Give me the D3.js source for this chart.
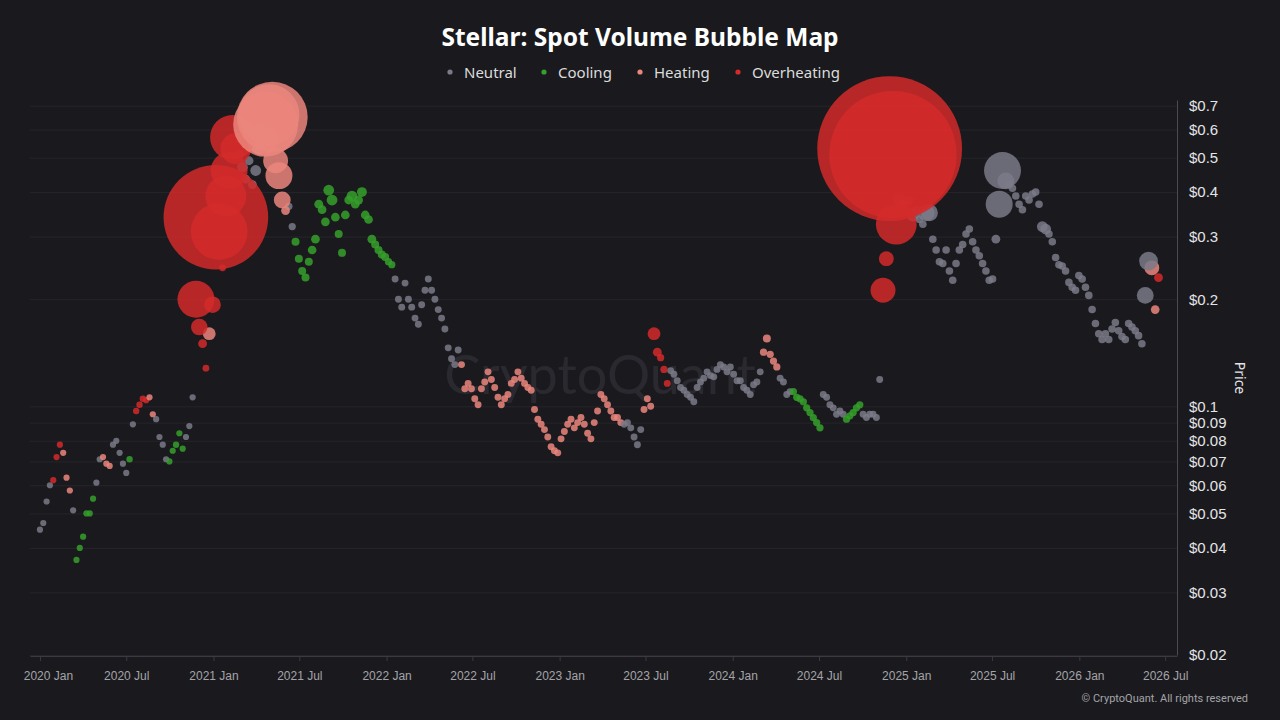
<!DOCTYPE html>
<html>
<head>
<meta charset="utf-8">
<script src="https://cdn.jsdelivr.net/npm/d3@7"></script>
<style>
  html, body { margin: 0; padding: 0; background: #1a1a1e; }
  svg { display: block; font-family: "Noto Sans", "Open Sans", sans-serif; }
</style>
</head>
<body>
<div id="chart"></div>
<script>
const width = 1280;
const height = 720;

// weekly samples starting 2020-01-01
const startDate = new Date(2020, 0, 1);

const categories = ["Neutral", "Cooling", "Heating", "Overheating"];
const categoryColors = ["#7a7a88", "#35a02a", "#eb867d", "#d32a2a"];
const stateCodes = { N: "Neutral", C: "Cooling", H: "Heating", O: "Overheating" };

const priceTicks = [0.02, 0.03, 0.04, 0.05, 0.06, 0.07, 0.08, 0.09, 0.1, 0.2, 0.3, 0.4, 0.5, 0.6, 0.7];

// XLM price (USD), one per week
const prices = [
  0.045,0.047,0.054,0.060,0.062,0.072,0.078,0.074,0.063,0.058,
  0.051,0.037,0.040,0.043,0.050,0.050,0.055,0.061,0.071,0.072,
  0.069,0.068,0.078,0.080,0.074,0.069,0.065,0.071,0.089,0.097,
  0.101,0.105,0.104,0.106,0.095,0.092,0.082,0.078,0.071,0.070,
  0.075,0.078,0.084,0.076,0.082,0.088,0.106,0.200,0.167,0.150,
  0.128,0.160,0.193,0.340,0.310,0.245,0.390,0.460,0.570,0.530,
  0.510,0.470,0.435,0.490,0.420,0.460,0.530,0.560,0.620,0.660,
  0.650,0.490,0.445,0.380,0.355,0.365,0.320,0.290,0.260,0.240,
  0.230,0.255,0.275,0.295,0.370,0.357,0.330,0.405,0.380,0.340,
  0.305,0.270,0.345,0.380,0.390,0.370,0.380,0.400,0.345,0.335,
  0.295,0.285,0.275,0.267,0.263,0.255,0.250,0.228,0.200,0.190,
  0.222,0.200,0.190,0.177,0.170,0.193,0.212,0.228,0.212,0.200,
  0.187,0.177,0.165,0.146,0.136,0.131,0.144,0.131,0.112,0.116,
  0.112,0.105,0.101,0.112,0.117,0.125,0.119,0.113,0.106,0.101,
  0.105,0.108,0.116,0.119,0.125,0.120,0.116,0.113,0.111,0.098,
  0.092,0.089,0.086,0.082,0.077,0.075,0.074,0.081,0.085,0.089,
  0.092,0.087,0.090,0.093,0.089,0.084,0.081,0.090,0.097,0.108,
  0.105,0.101,0.097,0.093,0.093,0.090,0.089,0.090,0.087,0.082,
  0.078,0.086,0.098,0.105,0.100,0.160,0.142,0.137,0.127,0.116,
  0.126,0.123,0.118,0.113,0.111,0.108,0.106,0.103,0.113,0.117,
  0.120,0.125,0.122,0.121,0.127,0.131,0.129,0.125,0.129,0.123,
  0.118,0.118,0.113,0.111,0.108,0.115,0.117,0.125,0.142,0.155,
  0.140,0.134,0.129,0.120,0.117,0.108,0.110,0.110,0.106,0.105,
  0.103,0.099,0.096,0.093,0.090,0.087,0.108,0.106,0.101,0.099,
  0.095,0.097,0.095,0.092,0.094,0.096,0.099,0.101,0.095,0.093,
  0.095,0.095,0.093,0.119,0.212,0.260,0.530,0.510,0.325,0.380,
  0.370,0.357,0.380,0.345,0.357,0.335,0.325,0.350,0.350,0.295,
  0.275,0.255,0.252,0.275,0.240,0.226,0.252,0.275,0.285,0.305,
  0.315,0.290,0.275,0.265,0.252,0.240,0.226,0.228,0.295,0.370,
  0.460,0.430,0.420,0.410,0.390,0.370,0.357,0.390,0.380,0.395,
  0.400,0.370,0.320,0.315,0.305,0.290,0.262,0.250,0.248,0.240,
  0.223,0.216,0.212,0.233,0.228,0.216,0.205,0.187,0.171,0.160,
  0.154,0.160,0.154,0.165,0.172,0.163,0.157,0.154,0.171,0.167,
  0.163,0.158,0.150,0.205,0.256,0.245,0.187,0.230
];

// market state per week (N neutral, C cooling, H heating, O overheating)
const states = (
  "NNNNOOOHHH" + "NCCCCCCNNH" + "HHNNNNNCNO" + "OOOHHNNNNC" + "CCCCNNNOOO" +
  "OHOOOOOOOO" + "NNNNNNNHHH" + "HHHHHNNCCC" + "CCCCCCCCCC" + "CCCCCCCCCC" +
  "CCCCCCCNNN" + "NNNNNNNNNN" + "NNNNNNNHHH" + "HHHHHHHHHH" + "HHHHHHHHHH" +
  "HHHHHHHHHH" + "HHHHHHHHHH" + "HHHHHHNNNN" + "NNHHHOOOOO" + "NNNNNNNNNN" +
  "NNNNNNNNNN" + "NNNNNNNNHH" + "HHHNNNNCCC" + "CCCCCCNNNN" + "NNNCCCCCNN" +
  "NNNNOOOOON" + "NNNNNNNNNN" + "NNNNNNNNNN" + "NNNNNNNNNN" + "NNNNNNNNNN" +
  "NNNNNNNNNN" + "NNNNNNNNNN" + "NNNNNNNNNN" + "NNNNNHHO"
).split("");

// spot volume (billion USD)
const volumes = [
  .010,.010,.010,.010,.012,.012,.012,.012,.010,.010,
  .010,.012,.010,.010,.010,.012,.010,.010,.012,.012,
  .012,.010,.010,.012,.010,.010,.010,.015,.012,.015,
  .015,.015,.012,.012,.012,.010,.012,.010,.010,.012,
  .012,.015,.012,.012,.010,.010,.010,.63,.12,.031,
  .017,.07,.12,5.2,1.5,.017,.77,.63,.93,.43,
  .031,.048,.031,.031,.031,.048,.048,.43,1.98,1.74,
  2.36,.28,.33,.124,.031,.02,.02,.025,.025,.025,
  .025,.025,.03,.03,.031,.03,.03,.048,.048,.03,
  .025,.025,.03,.03,.048,.03,.031,.04,.03,.03,
  .031,.025,.025,.025,.025,.02,.02,.018,.018,.018,
  .018,.018,.018,.018,.018,.018,.018,.018,.018,.018,
  .018,.018,.018,.018,.018,.018,.018,.018,.018,.018,
  .018,.018,.018,.018,.018,.018,.018,.018,.018,.018,
  .018,.018,.018,.018,.018,.018,.018,.018,.018,.018,
  .018,.018,.018,.018,.018,.018,.018,.018,.018,.018,
  .018,.018,.018,.018,.018,.018,.018,.018,.018,.018,
  .018,.018,.018,.018,.018,.018,.018,.018,.018,.018,
  .018,.018,.018,.018,.018,.07,.031,.02,.02,.018,
  .018,.018,.018,.018,.018,.018,.018,.018,.018,.018,
  .018,.018,.018,.018,.018,.018,.018,.018,.018,.018,
  .018,.018,.018,.018,.018,.018,.018,.018,.02,.025,
  .02,.02,.02,.018,.018,.018,.018,.02,.02,.02,
  .02,.02,.02,.02,.02,.02,.018,.018,.018,.018,
  .018,.018,.018,.02,.02,.02,.02,.02,.018,.018,
  .018,.018,.018,.018,.28,.095,10,7.7,.77,.07,
  .048,.02,.02,.07,.022,.022,.022,.124,.124,.022,
  .022,.022,.022,.022,.022,.022,.022,.022,.022,.022,
  .022,.022,.022,.022,.022,.022,.022,.022,.031,.33,
  .63,.124,.022,.022,.022,.022,.022,.022,.022,.022,
  .022,.022,.048,.048,.022,.022,.022,.022,.022,.022,
  .022,.022,.022,.022,.022,.022,.022,.022,.022,.022,
  .022,.022,.022,.022,.022,.022,.022,.022,.022,.022,
  .022,.022,.022,.124,.156,.095,.03,.031
];

const data = prices.map((p, i) => ({
  date: d3.timeDay.offset(startDate, i * 7),
  price: p,
  state: stateCodes[states[i]],
  volume: volumes[i]
}));

const svg = d3.select("#chart")
  .append("svg")
  .attr("width", width)
  .attr("height", height);

svg.append("rect")
  .attr("width", width)
  .attr("height", height)
  .attr("fill", "#1a1a1e");

const x = d3.scaleTime()
  .domain([new Date(2019, 11, 11), new Date(2026, 6, 26)])
  .range([30, 1177]);

const y = d3.scaleLog()
  .domain([0.02, 0.726])
  .range([655, 100]);

const r = d3.scaleSqrt()
  .domain([0, 10])
  .range([0, 72]);

const color = d3.scaleOrdinal()
  .domain(categories)
  .range(categoryColors);

// === Grid ===
svg.append("g")
  .selectAll("line")
  .data(priceTicks)
  .join("line")
  .attr("x1", 30)
  .attr("x2", 1177)
  .attr("y1", d => y(d) + 0.5)
  .attr("y2", d => y(d) + 0.5)
  .attr("stroke", "#25252a")
  .attr("stroke-width", 1);

// watermark
svg.append("text")
  .attr("x", 600)
  .attr("y", 394)
  .attr("text-anchor", "middle")
  .attr("fill", "#29292f")
  .style("font-family", "Lato, 'Noto Sans', sans-serif")
  .style("font-size", "54px")
  .text("CryptoQuant");

// === Axes ===
const xAxis = svg.append("g")
  .attr("transform", "translate(0,656)")
  .call(d3.axisBottom(x)
    .ticks(d3.timeMonth.every(6))
    .tickFormat(d3.timeFormat("%Y %b"))
    .tickSize(5)
    .tickSizeOuter(0)
    .tickPadding(10));
xAxis.select(".domain").attr("stroke", "#3a3a40");
xAxis.selectAll(".tick line").attr("stroke", "#3a3a40");
xAxis.selectAll(".tick text")
  .attr("fill", "#a4a4a8")
  .style("font-size", "12px");
// keep the first label inside the frame
xAxis.select(".tick text").attr("dx", 8);

const yAxis = svg.append("g")
  .attr("transform", "translate(1177,0)")
  .call(d3.axisRight(y)
    .tickValues(priceTicks)
    .tickFormat(d => "$" + d)
    .tickSize(0)
    .tickSizeOuter(0)
    .tickPadding(12));
yAxis.select(".domain").attr("stroke", "#4a4a50");
yAxis.selectAll(".tick text")
  .attr("fill", "#e4e4e6")
  .style("font-size", "15px");

svg.append("text")
  .attr("transform", "translate(1235,378) rotate(90)")
  .attr("text-anchor", "middle")
  .attr("fill", "#e4e4e6")
  .style("font-size", "14px")
  .text("Price");

// === Bubbles ===
const sorted = data.slice().sort((a, b) => a.volume - b.volume);
svg.append("g")
  .selectAll("circle")
  .data(sorted)
  .join("circle")
  .attr("cx", d => x(d.date))
  .attr("cy", d => y(d.price))
  .attr("r", d => Math.max(3.1, r(d.volume) + 0.4))
  .attr("fill", d => color(d.state))
  .attr("fill-opacity", 0.85);

// === Title & legend ===
svg.append("text")
  .attr("x", 640)
  .attr("y", 46)
  .attr("text-anchor", "middle")
  .attr("fill", "#ffffff")
  .style("font-size", "24.5px")
  .style("font-weight", "700")
  .text("Stellar: Spot Volume Bubble Map");

const legendX = [450, 544, 640, 738];
const legend = svg.append("g")
  .selectAll("g")
  .data(categories)
  .join("g")
  .attr("transform", (d, i) => `translate(${legendX[i]},72)`);
legend.append("circle")
  .attr("r", 2.6)
  .attr("fill", d => color(d));
legend.append("text")
  .attr("x", 14)
  .attr("y", 5.5)
  .attr("fill", "#dcdcdc")
  .style("font-size", "15px")
  .text(d => d);

svg.append("text")
  .attr("x", 1248)
  .attr("y", 702)
  .attr("text-anchor", "end")
  .attr("fill", "#a4a4a8")
  .style("font-family", "Roboto, sans-serif")
  .style("font-size", "11px")
  .text("\u00a9 CryptoQuant. All rights reserved");
</script>
</body>
</html>
